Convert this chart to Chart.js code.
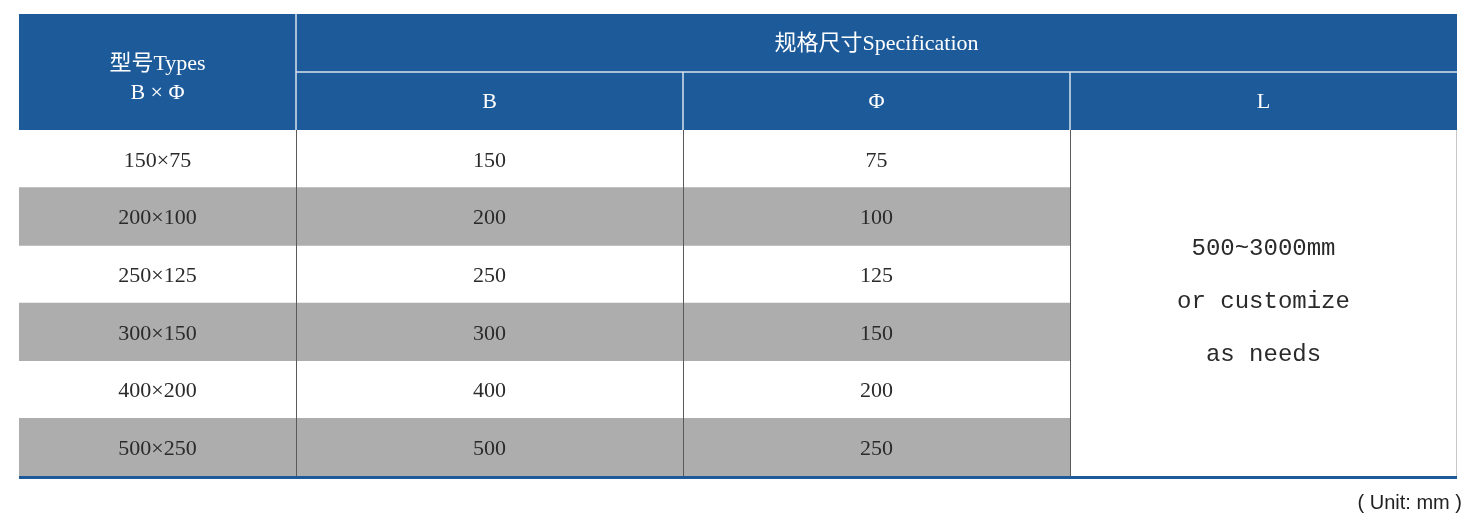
<!DOCTYPE html>
<html>
<head>
<meta charset="utf-8">
<script src="https://cdn.jsdelivr.net/npm/chart.js@4/dist/chart.umd.min.js"></script>
<style>
  html, body { margin: 0; padding: 0; background: #fff; }
  #wrap { width: 1472px; height: 532px; }
</style>
</head>
<body>
<div id="wrap"><canvas id="tabla"></canvas></div>
<script>
// datos de la tabla
const tipos = ['150×75', '200×100', '250×125', '300×150', '400×200', '500×250'];
const valoresB = [150, 200, 250, 300, 400, 500];
const valoresPhi = [75, 100, 125, 150, 200, 250];
const cabeceraTipo = ['型号Types', 'B × Φ'];
const cabeceraSpec = '规格尺寸Specification';
const columnas = ['B', 'Φ', 'L'];
const textoL = ['500~3000mm', 'or customize', 'as needs'];
const unidad = '( Unit: mm )';

// bordes de columna en unidades del eje x
const bordes = [0, 277, 664, 1051, 1438];
const AZUL = '#1d5a99';
const GRIS = '#adadad';
const serif = '"Liberation Serif", "Noto Sans CJK SC", serif';

const fondoGris = tipos.map((t, i) => i % 2 === 1 ? [bordes[0], bordes[3]] : null);

const dibujarTabla = {
  id: 'dibujarTabla',
  afterDatasetsDraw(chart) {
    const ctx = chart.ctx;
    const x = chart.scales.x, y = chart.scales.y;
    const area = chart.chartArea;
    const px = v => x.getPixelForValue(v);
    const filaAlto = (y.getPixelForValue(1) - y.getPixelForValue(0));
    const top = area.top - 2 * filaAlto + 0;
    const medio = area.top - filaAlto;

    ctx.save();
    // cabecera azul
    ctx.fillStyle = AZUL;
    ctx.fillRect(px(bordes[0]), 14, px(bordes[4]) - px(bordes[0]), area.top - 14);
    ctx.strokeStyle = '#d8e2ee';
    ctx.lineWidth = 1.5;
    ctx.beginPath();
    ctx.moveTo(px(bordes[1]), 72); ctx.lineTo(px(bordes[4]), 72);
    ctx.moveTo(px(bordes[1]), 14); ctx.lineTo(px(bordes[1]), area.top);
    ctx.moveTo(px(bordes[2]), 72); ctx.lineTo(px(bordes[2]), area.top);
    ctx.moveTo(px(bordes[3]), 72); ctx.lineTo(px(bordes[3]), area.top);
    ctx.stroke();

    ctx.fillStyle = '#fff';
    ctx.textAlign = 'center';
    ctx.textBaseline = 'middle';
    ctx.font = '22px ' + serif;
    const cx0 = (px(bordes[0]) + px(bordes[1])) / 2;
    ctx.fillText(cabeceraTipo[0], cx0, 64);
    ctx.fillText(cabeceraTipo[1], cx0, 93);
    ctx.fillText(cabeceraSpec, (px(bordes[1]) + px(bordes[4])) / 2, 44);
    columnas.forEach((c, i) => {
      ctx.fillText(c, (px(bordes[i + 1]) + px(bordes[i + 2])) / 2, 102);
    });

    // lineas verticales del cuerpo
    ctx.strokeStyle = '#5a5a5a';
    ctx.lineWidth = 1;
    ctx.beginPath();
    [1, 2, 3].forEach(i => {
      ctx.moveTo(px(bordes[i]) + 0.5, area.top); ctx.lineTo(px(bordes[i]) + 0.5, area.bottom);
    });
    ctx.stroke();
    ctx.strokeStyle = '#c8c8c8';
    ctx.beginPath();
    ctx.moveTo(px(bordes[4]) - 0.5, area.top); ctx.lineTo(px(bordes[4]) - 0.5, area.bottom);
    ctx.stroke();

    // textos de filas
    ctx.fillStyle = '#2a2a2a';
    ctx.font = '22px ' + serif;
    tipos.forEach((t, i) => {
      const cy = y.getPixelForValue(i) + 2;
      ctx.fillText(t, (px(bordes[0]) + px(bordes[1])) / 2, cy);
      ctx.fillText(String(valoresB[i]), (px(bordes[1]) + px(bordes[2])) / 2, cy);
      ctx.fillText(String(valoresPhi[i]), (px(bordes[2]) + px(bordes[3])) / 2, cy);
    });

    // celda combinada L
    ctx.font = '24px "Liberation Mono", "DejaVu Sans Mono", monospace';
    const cxL = (px(bordes[3]) + px(bordes[4])) / 2;
    textoL.forEach((t, i) => ctx.fillText(t, cxL, 249 + i * 53));

    // linea inferior azul
    ctx.fillStyle = AZUL;
    ctx.fillRect(px(bordes[0]), area.bottom, px(bordes[4]) - px(bordes[0]), 3);

    ctx.fillStyle = '#222';
    ctx.textAlign = 'right';
    ctx.font = '20px "Liberation Sans", Arial, sans-serif';
    ctx.fillText(unidad, 1462, 503);
    ctx.restore();
  }
};

new Chart(document.getElementById('tabla'), {
  type: 'bar',
  data: {
    labels: tipos,
    datasets: [{
      data: fondoGris,
      backgroundColor: GRIS,
      borderWidth: 0,
      barPercentage: 1,
      categoryPercentage: 1
    }]
  },
  options: {
    indexAxis: 'y',
    responsive: true,
    maintainAspectRatio: false,
    animation: false,
    layout: { padding: { left: 19, right: 15, top: 130, bottom: 56 } },
    plugins: { legend: { display: false }, tooltip: { enabled: false } },
    scales: {
      x: { type: 'linear', min: bordes[0], max: bordes[4], display: false },
      y: { type: 'category', display: false, offset: true }
    }
  },
  plugins: [dibujarTabla]
});
</script>
</body>
</html>
